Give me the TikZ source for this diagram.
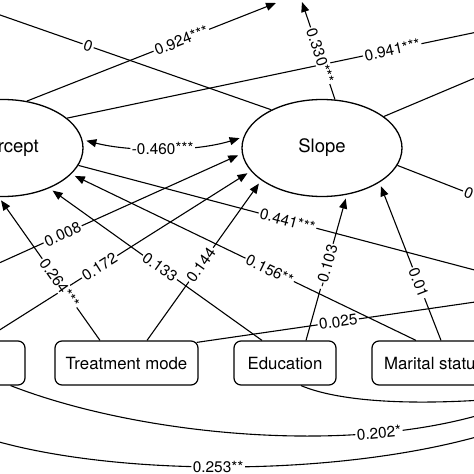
\documentclass[tikz,border=0pt]{standalone}
\usepackage{fontspec}
\setmainfont{TeX Gyre Heros}
\usetikzlibrary{shapes.geometric,arrows.meta}
\begin{document}
\begin{tikzpicture}[x=1pt,y=-1pt,
  lat/.style={ellipse,draw,line width=1.3pt,minimum width=160pt,minimum height=97pt,inner sep=0pt,font=\fontsize{18.5}{22}\selectfont},
  box/.style={draw,rounded corners=7pt,line width=1.2pt,minimum height=44pt,inner sep=0pt,font=\fontsize{16.8}{20}\selectfont},
  conn/.style={line width=1.1pt},
  arr/.style={conn,-{Triangle[length=10pt,width=8pt]},shorten >=4pt},
  lab/.style={fill=white,inner sep=1.5pt,font=\fontsize{15.4}{18}\selectfont,sloped}
]
\useasboundingbox (0,0) rectangle (474,474);
\clip (0,0) rectangle (474,474);

\coordinate (c0) at (-60,-6);
\coordinate (t924) at (276,3);
\coordinate (t330) at (302,2);
\coordinate (c941) at (520,23);
\coordinate (cTR) at (520,59);
\coordinate (cR) at (463,191);
\coordinate (c008) at (-174,341);
\coordinate (c441) at (520,282);
\coordinate (c025) at (520,295.5);
\coordinate (c202) at (540,392);
\coordinate (cedu) at (540,395);
\coordinate (c253a) at (-60,420);
\coordinate (c253b) at (540,415);

\node[lat] (int) at (3,148) {Intercept};
\node[lat] (slo) at (322,148) {Slope};
\node[box,minimum width=145pt] (lb) at (-47.5,363) {};
\node[box,minimum width=143pt] (tm) at (126.5,363) {Treatment mode};
\node[box,minimum width=102pt] (ed) at (285,363) {Education};
\node[box,minimum width=124pt] (ms) at (434,363) {Marital status};

\draw[conn] (slo.143.8) -- (c0) node[lab,pos=0.553]{0};
\draw[arr,shorten >=0pt] (int.63.2) -- (t924) node[lab,pos=0.62]{0.924***};
\draw[conn] (int.25.4) -- (c941) node[lab,pos=0.718]{0.941***};
\draw[arr,shorten >=0pt] (slo.75.8) -- (t330) node[lab,pos=0.45]{0.330***};
\draw[conn] (slo.27) -- (cTR);
\draw[conn] (slo.-13.7) -- (cR) node[lab,pos=1,anchor=west]{0};

\draw[conn,{Triangle[length=10pt,width=8pt]}-{Triangle[length=10pt,width=8pt]},shorten <=4pt,shorten >=4pt]
  (int.6) .. controls (130,152) and (195,152) .. (slo.172.6) node[lab,pos=0.5]{-0.460***};

\draw[conn] (int.-13.5) -- (c441) node[lab,pos=0.4736]{0.441***};
\draw[arr] (c008) -- (slo.184.4) node[lab,pos=0.569]{0.008};
\draw[arr] ([xshift=-42.5pt]lb.north east) -- (slo.198.7) node[lab,pos=0.435]{0.172};
\draw[arr] ([xshift=-26.5pt]tm.north) -- (int.-95.3) node[lab,pos=0.40]{0.264***};
\draw[arr] ([xshift=20.5pt]tm.north) -- (slo.208.9) node[lab,pos=0.473]{0.144};
\draw[arr] ([xshift=-23pt]ed.north) -- (int.-41.7) node[lab,pos=0.48]{0.133};
\draw[conn] ([xshift=-2pt,yshift=-2pt]tm.north east) -- (c025) node[lab,pos=0.438]{0.025};
\draw[arr] ([xshift=21pt]ed.north) -- (slo.-62) node[lab,pos=0.509]{-0.103};
\draw[arr] ([xshift=-18pt]ms.north) -- (int.-21.6) node[lab,pos=0.4245]{0.156**};
\draw[arr] ([xshift=7pt]ms.north) -- (slo.-31.4) node[lab,pos=0.365]{0.01};

\draw[conn] ([xshift=-15pt]lb.south east) .. controls (150,440) and (400,462) .. (c202) node[lab,pos=0.68]{0.202*};
\draw[conn] ([xshift=16pt]ed.south) .. controls (340,402) and (420,408) .. (cedu);
\draw[conn] (c253a) .. controls (60,482) and (380,485) .. (c253b) node[lab,pos=0.49]{0.253**};
\end{tikzpicture}
\end{document}
